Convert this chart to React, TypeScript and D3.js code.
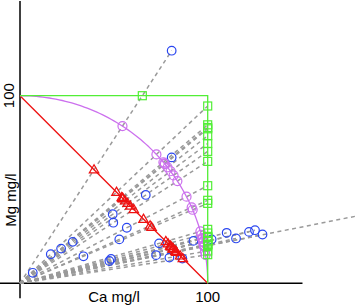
import React from "react";
import * as d3 from "d3";

const ca = [80.8, 80.8, 67.0, 49.4, 49.7, 56.9, 52.9, 28.1, 21.9, 16.4, 33.8, 6.8, 48.5, 47.6, 74.1, 72.5, 79.6, 86.5, 92.4, 102.1, 110.1, 115.1, 122.0, 125.2, 129.2, 190];
const mg = [124.0, 67.1, 47.1, 36.8, 32.3, 29.6, 23.4, 22.1, 18.5, 15.5, 14.4, 5.6, 13.0, 11.9, 21.3, 15.0, 13.7, 13.2, 22.6, 23.4, 26.9, 23.9, 27.4, 28.3, 26.0, 38];
const xAxisExtent = [-10.7, 150.5];
const yAxisExtent = [-8, 150.5];
const tickValue = 100;
const xLabel = "Ca mg/l";
const yLabel = "Mg mg/l";

const W = 355, H = 305;
const x = d3.scaleLinear().domain([0, 100]).range([20, 207.7]);
const y = d3.scaleLinear().domain([0, 100]).range([283.3, 95.7]);

const BLUE = "#2a46f0";
const RED = "#ee1010";
const VIOLET = "#cc70ee";
const GREEN = "#52ee36";
const GREY = "#9a9a9a";
const FONT = "'Liberation Sans', Arial, sans-serif";

export default function App() {
  const pts = ca.map((c, i) => {
    const m = mg[i];
    const r = Math.hypot(c, m);
    const ux = c / r, uy = m / r;
    const tri = { x: 100 * c / (c + m), y: 100 * m / (c + m) };
    const arc = { x: 100 * ux, y: 100 * uy };
    const s = 100 / Math.max(c, m);
    const sq = { x: c * s, y: m * s };
    const end = s > 1 ? sq : { x: c, y: m };
    return { c, m, tri, arc, sq, end };
  });

  const arcPath = d3.line<number>()
    .x((t) => x(100 * Math.sin(t)))
    .y((t) => y(100 * Math.cos(t)))(d3.range(0, 91).map((d) => (d * Math.PI) / 180));

  const triPath = (cx: number, cy: number) => {
    const r = 5;
    return `M${cx},${cy - r}L${cx + r * 0.95},${cy + r * 0.65}L${cx - r * 0.95},${cy + r * 0.65}Z`;
  };

  return (
    <svg width={W} height={H} style={{ position: "fixed", left: 0, top: 0, background: "#fff" }}>
      <line x1={x(xAxisExtent[0])} x2={x(xAxisExtent[1])} y1={y(0)} y2={y(0)} stroke="#000" strokeWidth={1.5} />
      <line x1={x(0)} x2={x(0)} y1={y(yAxisExtent[0])} y2={y(yAxisExtent[1])} stroke="#000" strokeWidth={1.5} />
      {pts.map((p, i) => (
        <line key={"r" + i} x1={x(0)} y1={y(0)} x2={x(p.end.x)} y2={y(p.end.y)}
          stroke={GREY} strokeWidth={1.5} strokeDasharray="4,3.5" />
      ))}
      {pts.map((p, i) => (
        <circle key={"b" + i} cx={x(p.c)} cy={y(p.m)} r={4.3} fill="none" stroke={BLUE} strokeWidth={1.2} />
      ))}
      <line x1={x(0)} y1={y(100)} x2={x(100)} y2={y(0)} stroke={RED} strokeWidth={1.3} />
      {pts.map((p, i) => (
        <path key={"t" + i} d={triPath(x(p.tri.x), y(p.tri.y))} fill="none" stroke={RED} strokeWidth={1.2} />
      ))}
      <path d={arcPath || ""} fill="none" stroke={VIOLET} strokeWidth={1.3} />
      {pts.map((p, i) => (
        <circle key={"v" + i} cx={x(p.arc.x)} cy={y(p.arc.y)} r={4.5} fill="none" stroke={VIOLET} strokeWidth={1.2} />
      ))}
      <path d={`M${x(0)},${y(100)}L${x(100)},${y(100)}L${x(100)},${y(0)}`} fill="none" stroke={GREEN} strokeWidth={1.3} />
      {pts.map((p, i) => (
        <rect key={"s" + i} x={x(p.sq.x) - 4} y={y(p.sq.y) - 4} width={8} height={8} fill="none" stroke={GREEN} strokeWidth={1.2} />
      ))}
      <text x={x(tickValue)} y={302} textAnchor="middle" fontFamily={FONT} fontSize={15}>{tickValue}</text>
      <text x={114} y={302} textAnchor="middle" fontFamily={FONT} fontSize={15}>{xLabel}</text>
      <text transform={`translate(13.5,${y(tickValue)}) rotate(-90)`} textAnchor="middle" fontFamily={FONT} fontSize={15}>{tickValue}</text>
      <text transform={`translate(16,200) rotate(-90)`} textAnchor="middle" fontFamily={FONT} fontSize={15}>{yLabel}</text>
    </svg>
  );
}
